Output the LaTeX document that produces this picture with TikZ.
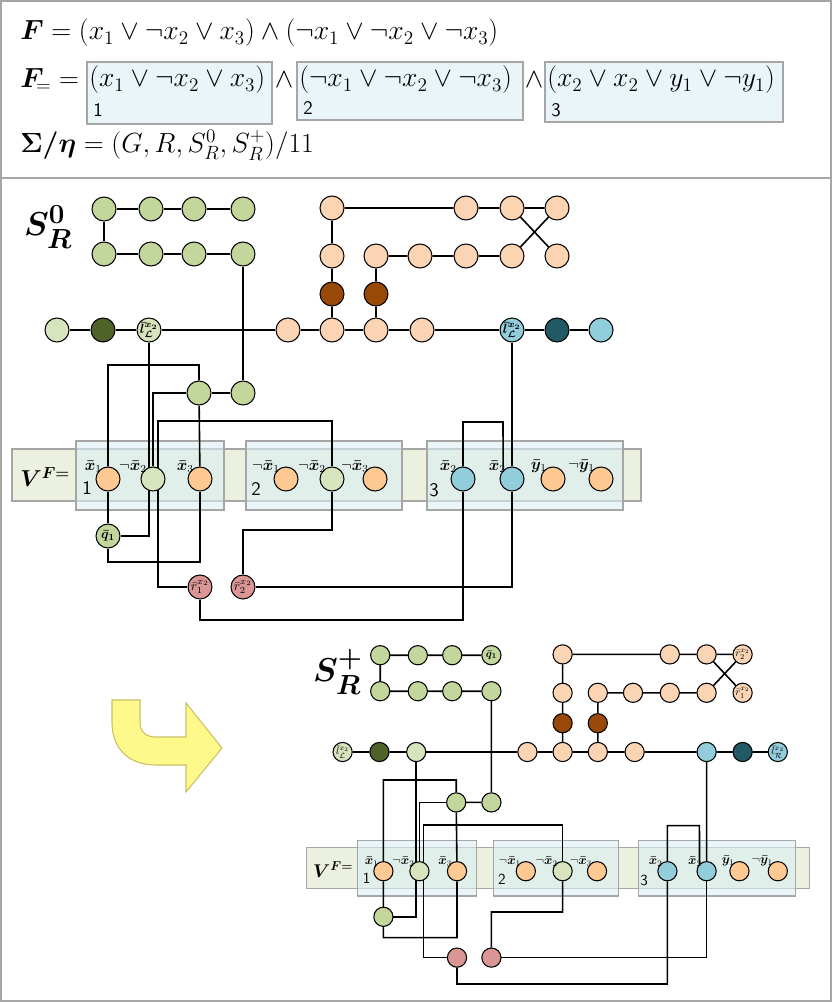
\documentclass[tikz,border=0pt]{standalone}
\usepackage{amsmath,bm}
\usetikzlibrary{positioning}

\definecolor{grn}{HTML}{C3D69B}
\definecolor{grnpale}{HTML}{D7E4BD}
\definecolor{grndark}{HTML}{4F6228}
\definecolor{org}{HTML}{FBD4B4}
\definecolor{orgclause}{HTML}{FFC993}
\definecolor{brn}{HTML}{984807}
\definecolor{blu}{HTML}{92CDDC}
\definecolor{teal}{HTML}{215967}
\definecolor{red}{HTML}{D99694}
\definecolor{band}{HTML}{EBF1DE}
\definecolor{clbox}{HTML}{DBEEF3}
\definecolor{frame}{HTML}{A6A6A6}

\pgfdeclarelayer{boxes}
\pgfdeclarelayer{wires}
\pgfsetlayers{boxes,wires,main}

\newif\iffinal
\newcommand\pick[2]{\iffinal#2\else#1\fi}

\tikzset{
  v/.style={circle,draw,line width=0.8pt,minimum size=18pt,inner sep=0pt,font=\normalsize},
  g/.style={v,fill=grn}, gp/.style={v,fill=grnpale}, gd/.style={v,fill=grndark},
  o/.style={v,fill=org}, oc/.style={v,fill=orgclause}, br/.style={v,fill=brn},
  b/.style={v,fill=blu}, t/.style={v,fill=teal}, r/.style={v,fill=red},
  wire/.style={line width=1.2pt},
  lit/.style={font=\large,inner sep=0pt,label distance=-3pt},
  num/.style={font=\Large\sffamily,inner sep=0pt},
  big/.style={anchor=west,font=\fontsize{21}{25}\selectfont,inner sep=0pt},
  cbox/.style={draw=frame,fill=clbox,fill opacity=0.6,line width=0.8pt}
}

% one reduction picture
\newcommand\gadget[1]{%
  % clause band
  \begin{pgfonlayer}{boxes}
  \draw[draw=frame,fill=band,line width=0.8pt] (12,449) rectangle (641,501);
  \draw[cbox] (76,441) rectangle (224,510);
  \draw[cbox] (246,441) rectangle (402,510);
  \draw[cbox] (427,441) rectangle (623,510);
  \end{pgfonlayer}
  \node[font=\LARGE,anchor=west,inner sep=0pt] at (20,477) {$\bm{V^{F=}}$};
  \node[num] at (87,488) {1};
  \node[num] at (256,489) {2};
  \node[num] at (434,490) {3};
  % green cage
  \foreach \i/\x in {1/104,2/151,3/194}{
    \node[g] (#1a\i) at (\x,209) {};
    \node[g] (#1b\i) at (\x,254) {};
  }
  \node[g] (#1a4) at (243,209) {\pick{}{$\bm{\bar q_1}$}};
  \node[g] (#1b4) at (243,254) {};
  \node[g] (#1h1) at (199,393) {};
  \node[g] (#1h2) at (243,393) {};
  % orange part
  \node[o] (#1o1) at (332,208) {};
  \node[o] (#1o2) at (466,208) {};
  \node[o] (#1o3) at (512,208) {};
  \node[o] (#1o4) at (557,208) {\pick{}{$\bar r^{x_2}_2$}};
  \node[o] (#1p1) at (332,256) {};
  \node[o] (#1p2) at (376,256) {};
  \node[o] (#1p3) at (420,256) {};
  \node[o] (#1p4) at (466,256) {};
  \node[o] (#1p5) at (512,256) {};
  \node[o] (#1p6) at (557,256) {\pick{}{$\bar r^{x_2}_1$}};
  \node[br] (#1br1) at (332,294) {};
  \node[br] (#1br2) at (376,294) {};
  % middle row
  \node[gp] (#1m1) at (57,330) {\pick{}{$\bar l^{x_2}_{\mathcal L}$}};
  \node[gd] (#1m2) at (103,330) {};
  \node[gp] (#1m3) at (149,330) {\pick{$\bm{\bar l^{x_2}_{\mathcal L}}$}{}};
  \node[o] (#1m4) at (288,330) {};
  \node[o] (#1m5) at (332,330) {};
  \node[o] (#1m6) at (376,330) {};
  \node[o] (#1m7) at (422,330) {};
  \node[b] (#1m8) at (512,330) {\pick{$\bm{\bar l^{x_2}_{\mathcal L}}$}{}};
  \node[t] (#1m9) at (557,330) {};
  \node[b] (#1m10) at (601,330) {\pick{}{$\bar l^{x_2}_{\mathcal R}$}};
  % clause literals
  \node[oc,label={[lit]135:$\bm{\bar x}_1$}] (#1c11) at (108,479) {};
  \node[gp,label={[lit]135:$\neg\bm{\bar x}_2$}] (#1c12) at (153,479) {};
  \node[oc,label={[lit]135:$\bm{\bar x}_3$}] (#1c13) at (200,479) {};
  \node[oc,label={[lit]135:$\neg\bm{\bar x}_1$}] (#1c21) at (286,479) {};
  \node[gp,label={[lit]135:$\neg\bm{\bar x}_2$}] (#1c22) at (332,479) {};
  \node[oc,label={[lit]135:$\neg\bm{\bar x}_3$}] (#1c23) at (375,479) {};
  \node[b,label={[lit]135:$\bm{\bar x}_2$}] (#1c31) at (463,479) {};
  \node[b,label={[lit]135:$\bm{\bar x}_2$}] (#1c32) at (512,479) {};
  \node[oc,label={[lit]135:$\bm{\bar y}_1$}] (#1c33) at (553,479) {};
  \node[oc,label={[lit]135:$\neg\bm{\bar y}_1$}] (#1c34) at (601,479) {};
  \node[g] (#1q) at (108,536) {\pick{$\bm{\bar q_1}$}{}};
  \node[r] (#1r1) at (200,587) {\pick{$\bar r^{x_2}_1$}{}};
  \node[r] (#1r2) at (243,587) {\pick{$\bar r^{x_2}_2$}{}};
  % bends
  \coordinate (#1k1) at (158,421);
  \coordinate (#1k2) at (199,365);
  \coordinate (#1k3) at (200,562);
  \coordinate (#1k4) at (243,530);
  \coordinate (#1k5) at (463,620);
  \coordinate (#1k6) at (503,422);
  % connectors
  \begin{pgfonlayer}{wires}
  \draw[wire] (#1a1)--(#1a2)--(#1a3)--(#1a4) (#1a1)--(#1b1)--(#1b2)--(#1b3)--(#1b4);
  \draw[wire] (#1b4)--(#1h2) (#1h1)--(#1h2);
  \draw[wire] (#1o1)--(#1o2)--(#1o3)--(#1o4) (#1o1)--(#1p1)--(#1br1)--(#1m5)
    (#1p2)--(#1br2)--(#1m6) (#1p2)--(#1p3)--(#1p4)--(#1p5)
    (#1o3)--(#1p6) (#1p5)--(#1o4);
  \draw[wire] (#1m1)--(#1m2)--(#1m3)--(#1m4)--(#1m5)--(#1m6)--(#1m7)--(#1m8)--(#1m9)--(#1m10);
  \draw[wire] (#1m3) |- (#1q);
  \draw[wire] (#1h1) -| (#1c12);
  \draw[wire] (#1c22) |- (#1k1) |- (#1r1);
  \draw[wire] (#1c11) |- (#1k2) -- (#1h1) -- (#1c13);
  \draw[wire] (#1c11) -- (#1q) |- (#1k3) -- (#1c13);
  \draw[wire] (#1c22) |- (#1k4) -- (#1r2);
  \draw[wire] (#1r2) -| (#1c32);
  \draw[wire] (#1r1) |- (#1k5) -- (#1c31);
  \draw[wire] (#1c31) |- (#1k6) -- (#1c32.north west);
  \draw[wire] (#1m8) -- (#1c32);
  \end{pgfonlayer}
}

\begin{document}
\begin{tikzpicture}[x=0.75pt,y=-0.75pt]
\useasboundingbox (0,0) rectangle (832,1002);
\draw[frame,line width=1pt] (1,1) rectangle (831,1001);
\draw[frame,line width=1pt] (1,178) -- (831,178);

% formulas
\node[big] (fF) at (20,33)
  {$\bm{F}=(x_1\vee\neg x_2\vee x_3)\wedge(\neg x_1\vee\neg x_2\vee\neg x_3)$};
\node[big] (fFeq) at (20,80) {$\bm{F}_{\!=}=$};
\begin{pgfonlayer}{boxes}
\draw[cbox] (87,62) rectangle (272,124);
\draw[cbox] (297,62) rectangle (523,120);
\draw[cbox] (545,62) rectangle (783,122);
\end{pgfonlayer}
\node[big] (cl1) at (89,80) {$(x_1\vee\neg x_2\vee x_3)$};
\node[big,anchor=center] (and1) at (284,80) {$\wedge$};
\node[big] (cl2) at (299,80) {$(\neg x_1\vee\neg x_2\vee\neg x_3)$};
\node[big,anchor=center] (and2) at (534,80) {$\wedge$};
\node[big] (cl3) at (547,80) {$(x_2\vee x_2\vee y_1\vee\neg y_1)$};
\node[num] at (98,110) {1};
\node[num] at (308,108) {2};
\node[num] at (556,110) {3};
\node[big] (fS) at (20,145) {$\bm{\Sigma/\eta}=(G,R,S^0_R,S^+_R)/11$};

% initial reduction
\node[font=\fontsize{30}{34}\selectfont] at (48,227) {$\bm{S^0_R}$};
\gadget{s}

% transition
\draw[fill=yellow!45,draw=yellow!50!gray,line width=0.8pt]
  (112,700) -- (140,700) -- (140,722) .. controls (140,732) and (146,737) .. (156,737)
  -- (186,737) -- (186,703) -- (222,748) -- (186,792) -- (186,765) -- (156,765)
  .. controls (128,765) and (112,748) .. (112,722) -- cycle;

% final reduction
\node[font=\fontsize{30}{34}\selectfont] at (338,672) {$\bm{S^+_R}$};
\finaltrue
\begin{scope}[shift={(297,488)},scale=0.8,transform shape]
\gadget{t}
\end{scope}
\end{tikzpicture}
\end{document}
